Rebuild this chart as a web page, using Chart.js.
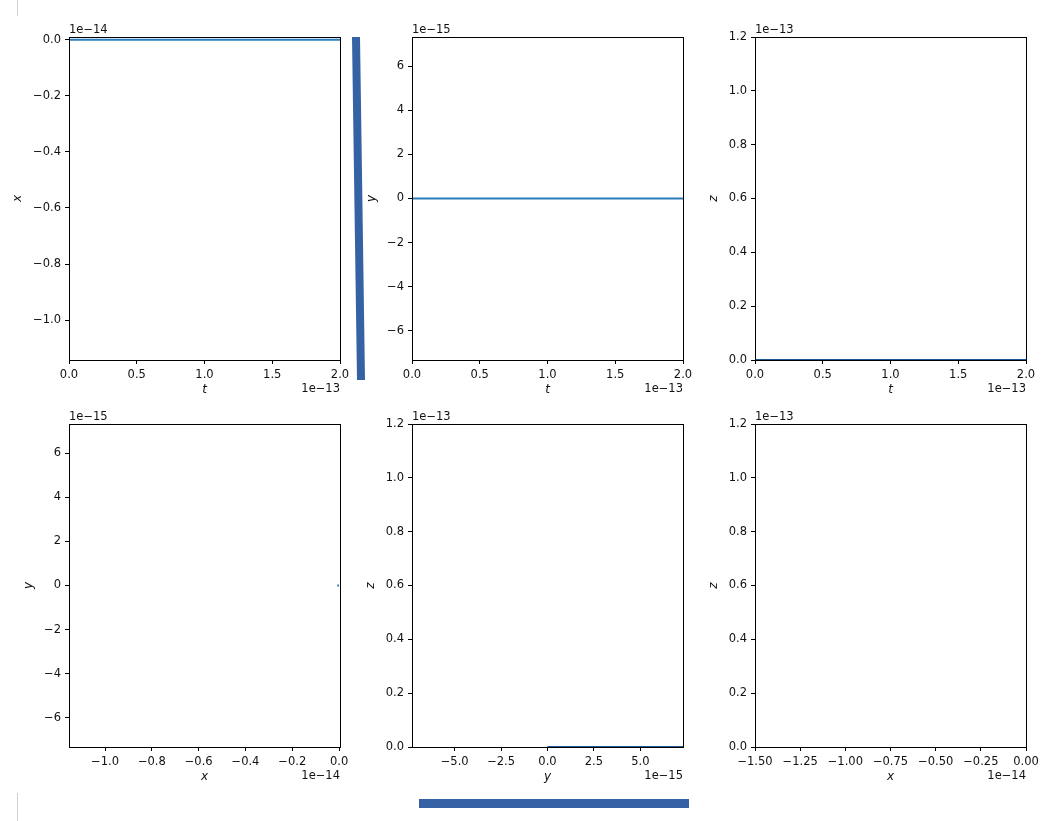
<!DOCTYPE html>
<html lang="en">
<head>
  <meta charset="UTF-8" />
  <title>Trajectory components</title>
  <script src="https://cdn.jsdelivr.net/npm/chart.js"></script>
  <style>
    body { margin: 0; background: #fff; width: 1044px; height: 821px; position: relative; overflow: hidden; }
    .panel { position: absolute; }
    .deco { position: absolute; background: #3462a4; }
    .rule { position: absolute; width: 1px; background: #d0d0d0; }
  </style>
</head>
<body>
  <div class="rule" style="left:17px; top:0; height:16px;"></div>
  <div class="rule" style="left:17px; top:793px; height:28px;"></div>

  <div class="panel" style="left:0px; top:0px;"><canvas id="c1" width="358" height="420"></canvas></div>
  <div class="panel" style="left:343px; top:0px;"><canvas id="c2" width="358" height="420"></canvas></div>
  <div class="panel" style="left:686px; top:0px;"><canvas id="c3" width="358" height="420"></canvas></div>
  <div class="panel" style="left:0px; top:387px;"><canvas id="c4" width="358" height="420"></canvas></div>
  <div class="panel" style="left:343px; top:387px;"><canvas id="c5" width="358" height="420"></canvas></div>
  <div class="panel" style="left:686px; top:387px;"><canvas id="c6" width="358" height="420"></canvas></div>

  <!-- the two stray blue bars -->
  <div class="deco" style="left:352px; top:37px; width:13px; height:343px; clip-path: polygon(0 0, 8px 0, 13px 100%, 5px 100%);"></div>
  <div class="deco" style="left:419px; top:799px; width:270px; height:9px;"></div>

  <script>
    // time samples and components
    const tGrid = [0, 2e-13];
    const xOfT = [0, 0];
    const yOfT = [0, 0];
    const zOfT = [0, 0];
    // phase-plane paths
    const xyPathX = [-8e-17, 0];
    const xyPathY = [0, 0];
    const yzPathY = [0, 7.3e-15];
    const yzPathZ = [0, 0];
    const xzPathX = [0, 0];
    const xzPathZ = [0, 0];

    // tick labels (in units of the axis offset)
    const tTicks = [0.0, 0.5, 1.0, 1.5, 2.0];          // 1e-13
    const xTicks = [-1.0, -0.8, -0.6, -0.4, -0.2, 0.0]; // 1e-14
    const xTicksFine = [-1.50, -1.25, -1.00, -0.75, -0.50, -0.25, 0.00]; // 1e-14
    const yTicks = [-6, -4, -2, 0, 2, 4, 6];           // 1e-15
    const yTicksH = [-5.0, -2.5, 0.0, 2.5, 5.0];        // 1e-15
    const zTicks = [0.0, 0.2, 0.4, 0.6, 0.8, 1.0, 1.2]; // 1e-13

    const MINUS = '\u2212';
    const FONT = "11.5px 'DejaVu Sans'";
    const IFONT = "italic 12px 'DejaVu Sans'";
    Chart.defaults.font.family = "'DejaVu Sans', sans-serif";
    Chart.defaults.font.size = 11.5;
    Chart.defaults.color = '#111';

    function fmt(v, dec) {
      const s = Math.abs(v).toFixed(dec);
      return (v < 0 && Number(s) !== 0 ? MINUS : '') + s;
    }

    // frame, axis labels and offset texts like matplotlib
    const decor = {
      id: 'decor',
      afterDraw(chart, args, o) {
        const { ctx, chartArea: a } = chart;
        ctx.save();
        ctx.strokeStyle = '#000';
        ctx.lineWidth = 1;
        ctx.strokeRect(a.left + 0.5, a.top + 0.5, a.right - a.left, a.bottom - a.top);

        ctx.fillStyle = '#111';
        ctx.font = FONT;
        ctx.textAlign = 'left';
        ctx.textBaseline = 'alphabetic';
        ctx.fillText(o.yExp, a.left, a.top - 4);
        ctx.textAlign = 'right';
        ctx.textBaseline = 'top';
        ctx.fillText(o.xExp, a.right, a.bottom + 23);

        ctx.font = IFONT;
        ctx.textAlign = 'center';
        ctx.fillText(o.xTitle, (a.left + a.right) / 2, a.bottom + 24);

        ctx.font = FONT;
        let widest = 0;
        chart.scales.y.ticks.forEach(t => { widest = Math.max(widest, ctx.measureText(t.label).width); });
        const tx = a.left - 8 - widest - 9;
        ctx.translate(tx, (a.top + a.bottom) / 2);
        ctx.rotate(-Math.PI / 2);
        ctx.font = IFONT;
        ctx.textAlign = 'center';
        ctx.textBaseline = 'bottom';
        ctx.fillText(o.yTitle, 0, 0);
        ctx.restore();
      }
    };

    function axis(min, max, ticks, mult, dec, fixSize) {
      return {
        type: 'linear',
        min: min * mult,
        max: max * mult,
        afterBuildTicks: s => { s.ticks = ticks.map(v => ({ value: v * mult })); },
        afterFit: fixSize,
        ticks: {
          autoSkip: false,
          maxRotation: 0,
          padding: 4,
          color: '#111',
          callback: v => fmt(v / mult, dec)
        },
        grid: { drawOnChartArea: false, drawTicks: true, tickLength: 4, tickColor: '#000' },
        border: { display: true, color: '#000' }
      };
    }

    function panel(id, xs, ys, xAx, yAx, labels, color) {
      const pts = xs.map((v, i) => ({ x: v, y: ys[i] }));
      const xa = axis(xAx[0], xAx[1], xAx[2], xAx[3], xAx[4], s => { s.height = 60; });
      const ya = axis(yAx[0], yAx[1], yAx[2], yAx[3], yAx[4], s => { s.width = 69; });
      new Chart(document.getElementById(id), {
        type: 'line',
        data: {
          datasets: [{
            data: pts,
            borderColor: color,
            borderWidth: 2,
            pointRadius: 0,
            fill: false,
            tension: 0
          }]
        },
        options: {
          responsive: false,
          animation: false,
          layout: { padding: { top: 37, right: 18, left: 0, bottom: 0 } },
          scales: { x: xa, y: ya },
          plugins: {
            legend: { display: false },
            tooltip: { enabled: false },
            decor: labels
          }
        },
        plugins: [decor]
      });
    }

    const C0 = '#2a7dbb';
    const E13 = 1e-13, E14 = 1e-14, E15 = 1e-15;

    panel('c1', tGrid, xOfT,
      [0, 2, tTicks, E13, 1], [-1.1425, 0.01, xTicks, E14, 1],
      { xTitle: 't', yTitle: 'x', xExp: '1e' + MINUS + '13', yExp: '1e' + MINUS + '14' }, C0);
    panel('c2', tGrid, yOfT,
      [0, 2, tTicks, E13, 1], [-7.32, 7.32, yTicks, E15, 0],
      { xTitle: 't', yTitle: 'y', xExp: '1e' + MINUS + '13', yExp: '1e' + MINUS + '15' }, C0);
    panel('c3', tGrid, zOfT,
      [0, 2, tTicks, E13, 1], [0, 1.2, zTicks, E13, 1],
      { xTitle: 't', yTitle: 'z', xExp: '1e' + MINUS + '13', yExp: '1e' + MINUS + '13' }, '#1f5a96');
    panel('c4', xyPathX, xyPathY,
      [-1.154, 0.004, xTicks, E14, 1], [-7.32, 7.32, yTicks, E15, 0],
      { xTitle: 'x', yTitle: 'y', xExp: '1e' + MINUS + '14', yExp: '1e' + MINUS + '15' }, C0);
    panel('c5', yzPathY, yzPathZ,
      [-7.3, 7.3, yTicksH, E15, 1], [0, 1.2, zTicks, E13, 1],
      { xTitle: 'y', yTitle: 'z', xExp: '1e' + MINUS + '15', yExp: '1e' + MINUS + '13' }, '#1f5a96');
    panel('c6', xzPathX, xzPathZ,
      [-1.5, 0, xTicksFine, E14, 2], [0, 1.2, zTicks, E13, 1],
      { xTitle: 'x', yTitle: 'z', xExp: '1e' + MINUS + '14', yExp: '1e' + MINUS + '13' }, C0);
  </script>
</body>
</html>
